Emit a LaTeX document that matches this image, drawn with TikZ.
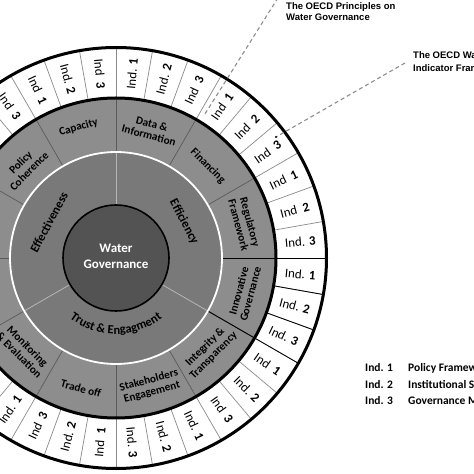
\documentclass[tikz,border=0pt]{standalone}
\usepackage{fontspec}
\setmainfont{Carlito}
\newfontfamily\titlefont{Liberation Sans}
\usetikzlibrary{calc,decorations.text}
\definecolor{coreg}{HTML}{535353}
\definecolor{midg}{HTML}{797979}
\definecolor{prig}{HTML}{8D8D8D}
\definecolor{leadg}{HTML}{8C8C8C}
\definecolor{divg}{HTML}{5A5A5A}
\definecolor{celldiv}{HTML}{8A8A8A}
\definecolor{middiv}{HTML}{B5B5B5}
\newcommand\indnd[1]{Ind\hspace{6pt}\textbf{#1}}
\newcommand\inddot[1]{Ind.\hspace{4pt}\textbf{#1}}
\begin{document}
\begin{tikzpicture}[x=1pt,y=1pt,
  indlab/.style={font=\fontsize{13}{14}\selectfont, inner sep=0pt},
  prilab/.style={font=\bfseries\fontsize{11.2}{12}\selectfont, align=center, inner sep=0pt},
  midlab/.style={font=\bfseries\fontsize{12.5}{14}\selectfont, inner sep=0pt},
  corelab/.style={font=\bfseries\fontsize{13}{15.5}\selectfont, text=white, align=center, inner sep=0pt},
  titlelab/.style={font=\titlefont\bfseries\fontsize{9.5}{11.5}\selectfont, inner sep=0pt, anchor=base west},
  leglab/.style={font=\bfseries\fontsize{11.5}{14}\selectfont, inner sep=0pt, anchor=base west},
  leader/.style={draw=leadg, line width=1.1pt, dash pattern=on 4pt off 3pt},
  thickring/.style={line width=3pt},
]
\useasboundingbox (0,0) rectangle (474,474);
\begin{scope}
\clip (0,0) rectangle (474,474);
\begin{scope}[shift={(116,216)}]
  \fill[white] (0,0) circle (210);
  \fill[prig] (0,0) circle (160);
  \fill[midg] (0,0) circle (106);
  % indicator cell dividers
  \foreach \a in {10,20,...,350} \draw[celldiv, line width=0.7pt] (\a:160) -- (\a:210);
  \foreach \a in {0,-10,-20,-30} \draw[black, line width=0.8pt] (\a:160) -- (\a:210);
  % principle dividers
  \foreach \a in {30,60,...,330} \draw[divg, line width=0.7pt] (\a:106) -- (\a:160);
  \foreach \a in {0,-30} \draw[black, line width=0.9pt] (\a:106) -- (\a:160);
  % dimension dividers
  \foreach \a in {90,210,330} \draw[middiv, line width=0.8pt] (\a:53) -- (\a:106);
  \draw[white, line width=1.8pt] (0,0) circle (106);
  \fill[coreg] (0,0) circle (53);
  \draw[black, line width=1.6pt] (0,0) circle (53);
  \draw[thickring] (0,0) circle (160);
  \draw[thickring] (0,0) circle (210.5);

  % core
  \node[corelab] (wg) at (0,1.5) {Water\\Governance};

  % dimensions
  \node[midlab, rotate=62] (eff) at (152:76) {Effectiveness};
  \node[midlab, rotate=-62] (effi) at (28:77) {Efficiency};
  \path[decorate, decoration={text along path, text align=center,
     text={|\bfseries\fontsize{12.5}{14}\selectfont|Trust {\&} Engagment}}]
     (215:76) arc[start angle=215, end angle=325, radius=76];

  % principles
  \node[prilab, rotate=16] (pcap) at (106:136) {Capacity};
  \node[prilab, rotate=-15] (pdata) at (75:133) {Data \&\\Information};
  \node[prilab, rotate=-45] (pfin) at (45:130) {Financing};
  \node[prilab, rotate=-75] (preg) at (15:133) {Regulatory\\Framework};
  \node[prilab, rotate=75] (pinn) at (-15:133) {Innovative\\Governance};
  \node[prilab, rotate=45] (pint) at (-45:132) {Integrity \&\\Transparency};
  \node[prilab, rotate=15] (psta) at (-75:133) {Stakeholders\\Engagement};
  \node[prilab, rotate=-15] (ptra) at (-105:135) {Trade off};
  \node[prilab, rotate=-45] (pmon) at (-135:131) {Monitoring\\\& Evaluation};
  \node[prilab, rotate=45] (ppol) at (135:129) {Policy\\Coherence};

  % indicators
  \foreach \a/\lab/\r [count=\k] in {
     115/\indnd{1}/-65, 105/\inddot{2}/-75, 95/\indnd{3}/-85,
     85/\inddot{1}/85, 75/\inddot{2}/75, 65/\indnd{3}/65,
     55/\indnd{1}/55, 45/\indnd{2}/45, 35/\indnd{3}/35,
     25/\indnd{1}/25, 15/\indnd{2}/15, 5/\inddot{3}/5,
     -5/\inddot{1}/-5, -15/\inddot{2}/-15, -25/\inddot{3}/-25,
     -35/\indnd{1}/-35, -45/\inddot{2}/-45, -55/\indnd{3}/-55,
     -65/\inddot{1}/-65, -75/\inddot{2}/-75, -85/\inddot{3}/-85,
     -95/\indnd{1}/85, -105/\inddot{2}/75, -115/\indnd{3}/65,
     -125/\inddot{1}/55, 125/\indnd{3}/-55}
     \node[indlab, rotate=\r] (ind\k) at (\a:185) {\lab};

  \coordinate (l1e) at (58.3:169);
  \coordinate (l2e) at (37.1:200.6);
\end{scope}

% titles
\node[titlelab] (t1a) at (286,464.7) {The OECD Principles on};
\node[titlelab] (t1b) at (286,453.3) {Water Governance};
\node[titlelab] (t2a) at (413,415.5) {The OECD Water Governance};
\node[titlelab] (t2b) at (413,402.5) {Indicator Framework};
\coordinate (l1s) at ($(t1a.base west)+(-8,11.5)$);
\coordinate (l2s) at ($(t2a.base west)+(-8,-4.5)$);
\draw[leader] (l1s) -- (l1e);
\draw[leader] (l2s) -- (l2e);
\fill[black] (l2e) circle (1.2);

% legend
\node[leglab] (lg1a) at (365,102) {Ind. 1};
\node[leglab] (lg1b) at (408,102) {Policy Framework};
\node[leglab] (lg2a) at (365,85.5) {Ind. 2};
\node[leglab] (lg2b) at (408,85.5) {Institutional Set-up};
\node[leglab] (lg3a) at (365,69) {Ind. 3};
\node[leglab] (lg3b) at (408,69) {Governance Mechanisms};
\end{scope}
\end{tikzpicture}
\end{document}
